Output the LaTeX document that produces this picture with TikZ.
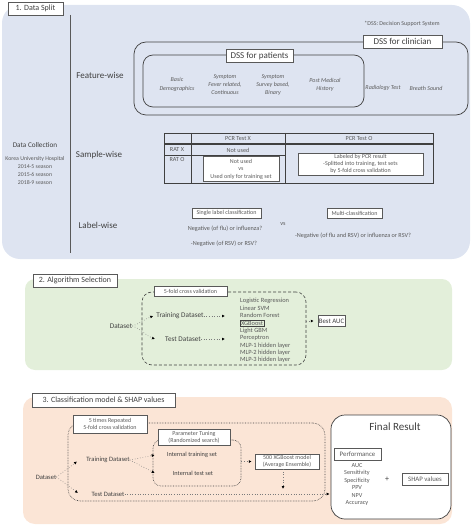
\documentclass[tikz,border=0pt]{standalone}
\usepackage{fontspec}
\setmainfont{Carlito}
\usetikzlibrary{arrows.meta}
\definecolor{pone}{HTML}{DEE4F1}
\definecolor{ptwo}{HTML}{E3EFDA}
\definecolor{pthree}{HTML}{FBE5D6}
\definecolor{ln}{HTML}{595959}
\definecolor{tx}{HTML}{404040}
\definecolor{tl}{HTML}{5A5A5A}
\newcommand\myfs[2]{\fontsize{#1}{#2}\selectfont}
\begin{document}
\begin{tikzpicture}[x=1pt,y=-1pt,
 titlebox/.style={draw=ln, fill=white, line width=0.6pt, inner sep=0pt, text=tx, font=\myfs{8}{9}},
 wbox/.style={draw=ln, fill=white, line width=0.5pt, inner sep=0pt, text=tl, align=center},
 ttx/.style={inner sep=0pt, text=tx, align=center},
 stx/.style={inner sep=0pt, text=tl, align=center},
 frame/.style={draw=tx, line width=0.7pt},
 conn/.style={draw=ln!80, dotted, line width=0.6pt, -{Latex[length=3pt,width=3pt,color=black]}},
 dashbox/.style={draw=tx, densely dashed, line width=0.6pt, rounded corners=10pt, inner sep=0pt},
 dotbox/.style={draw=tx, densely dotted, line width=0.6pt, rounded corners=#1, inner sep=0pt},
]
\useasboundingbox (0,0) rectangle (474,526);
% ---------- Panel 1 ----------
\fill[pone, rounded corners=18pt] (2,5) rectangle (470,259);
\node[titlebox, minimum width=55pt, minimum height=13pt] (h1) at (35.5,8.5) {1. Data Split};
\draw[ln, line width=0.6pt] (70,15) -- (70,253);
\node[ttx, font=\myfs{7.2}{8}] (dc) at (35,145) {Data Collection};
\node[stx, font=\myfs{5.8}{8}] (kuh) at (35,171) {Korea University Hospital\\2014-5 season\\2015-6 season\\2018-9 season};
\node[ttx, font=\myfs{9}{10}] (fw) at (100,75) {Feature-wise};
\node[ttx, font=\myfs{9}{10}] (sw) at (99,155) {Sample-wise};
\node[ttx, font=\myfs{9}{10}] (lw) at (98,225) {Label-wise};
\node[stx, font=\myfs{6}{7}] (dssnote) at (402,24) {*DSS: Decision Support System};
% DSS containers
\draw[frame, rounded corners=12pt] (134,42) rectangle (468,115);
\draw[frame, rounded corners=10pt] (143,55) rectangle (364,107);
\node[titlebox, font=\myfs{9}{10}, minimum width=79pt, minimum height=13pt] (dssc) at (402.5,41.5) {DSS for clinician};
\node[titlebox, font=\myfs{9}{10}, minimum width=67pt, minimum height=13pt] (dssp) at (259.5,56) {DSS for patients};
\node[stx, font=\myfs{6}{8.5}\itshape] (f1) at (177,84.5) {Basic\\Demographics};
\node[stx, font=\myfs{6}{8}\itshape] (f2) at (225,85) {Symptom\\Fever related,\\Continuous};
\node[stx, font=\myfs{6}{8}\itshape] (f3) at (273,85) {Symptom\\Survey based,\\Binary};
\node[stx, font=\myfs{6}{8.5}\itshape] (f4) at (325,85) {Post Medical\\History};
\node[stx, font=\myfs{6}{8}\itshape] (f5) at (383,88) {Radiology Test};
\node[stx, font=\myfs{6}{8}\itshape] (f6) at (426,88) {Breath Sound};
% table
\draw[tx, line width=0.7pt] (164,133) rectangle (433,183);
\draw[tx, line width=1.1pt] (164,144) -- (433,144);
\draw[tx, line width=0.6pt] (164,155) -- (285,155);
\draw[tx, line width=0.6pt] (191,133) -- (191,183) (285,133) -- (285,183);
\node[stx, font=\myfs{6.2}{7}] (pcrx) at (238,139) {PCR Test X};
\node[stx, font=\myfs{6.2}{7}] (pcro) at (359,139) {PCR Test O};
\node[stx, font=\myfs{6.2}{7}] (ratx) at (177,150) {RAT X};
\node[stx, font=\myfs{6.2}{7}] (notused) at (238,150) {Not used};
\node[stx, font=\myfs{6.2}{7}] (rato) at (177,160) {RAT O};
\node[wbox, font=\myfs{6}{7.5}, minimum width=76pt, minimum height=25pt] (nvu) at (241,169) {Not used\\vs\\Used only for training set};
\node[wbox, font=\myfs{6}{7.2}, minimum width=125pt, minimum height=22pt] (lab) at (360.5,164) {Labeled by PCR result\\-Splitted into training, test sets\\by 5-fold cross validation};
% label-wise
\node[wbox, font=\myfs{6}{7}, minimum width=69pt, minimum height=10pt] (slc) at (226.5,213) {Single label classification};
\node[stx, font=\myfs{6.2}{7}] (neg1) at (225,229) {Negative (of flu) or influenza?};
\node[stx, font=\myfs{6.2}{7}] (neg2) at (224,244) {-Negative (of RSV) or RSV?};
\node[stx, font=\myfs{6.2}{7}] (vs) at (283,224) {vs};
\node[wbox, font=\myfs{6}{7}, minimum width=55pt, minimum height=10pt] (mc) at (354.5,213) {Multi-classification};
\node[stx, font=\myfs{6.2}{7}] (neg3) at (353,236) {-Negative (of flu and RSV) or influenza or RSV?};
% ---------- Panel 2 ----------
\fill[ptwo, rounded corners=10pt] (25,279) rectangle (452,370);
\node[titlebox, minimum width=84pt, minimum height=13pt] (h2) at (75,280.5) {2. Algorithm Selection};
\node[dashbox, minimum width=164pt, minimum height=73pt] (cv) at (224,328.5) {};
\node[wbox, font=\myfs{6}{7}, minimum width=73pt, minimum height=10pt] (cvl) at (190.5,291.5) {5-fold cross validation};
\node[ttx, font=\myfs{7.2}{8}] (ds2) at (121,326) {Dataset};
\node[ttx, font=\myfs{7.2}{8}] (tr2) at (180,316) {Training Dataset};
\node[ttx, font=\myfs{7.2}{8}] (te2) at (183,339) {Test Dataset};
\node[stx, font=\myfs{6.4}{7}, anchor=west] (a1) at (240,301) {Logistic Regression};
\node[stx, font=\myfs{6.4}{7}, anchor=west] (a2) at (240,308.4) {Linear SVM};
\node[stx, font=\myfs{6.4}{7}, anchor=west] (a3) at (240,315.8) {Random Forest};
\node[stx, font=\myfs{6.4}{7}, anchor=west, draw=tx, line width=0.5pt, inner xsep=0.8pt, inner ysep=0.6pt] (a4) at (240,323.2) {XGBoost};
\node[stx, font=\myfs{6.4}{7}, anchor=west] (a5) at (240,330.6) {Light GBM};
\node[stx, font=\myfs{6.4}{7}, anchor=west] (a6) at (240,338) {Perceptron};
\node[stx, font=\myfs{6.4}{7}, anchor=west] (a7) at (240,345.4) {MLP-1 hidden layer};
\node[stx, font=\myfs{6.4}{7}, anchor=west] (a8) at (240,352.8) {MLP-2 hidden layer};
\node[stx, font=\myfs{6.4}{7}, anchor=west] (a9) at (240,360.2) {MLP-3 hidden layer};
\node[wbox, text=tx, font=\myfs{6.8}{8}, minimum width=27pt, minimum height=11pt] (best) at (331.5,321) {Best AUC};
\draw[conn] (ds2.east) to[out=20,in=200] ([xshift=-3pt]tr2.west);
\draw[conn] (ds2.east) to[out=-20,in=160] ([xshift=-10pt]te2.west);
\draw[conn, shorten >=15pt] (tr2.east) -- (tr2.east -| a1.west);
\draw[conn, shorten >=15pt] (te2.east) -- (te2.east -| a1.west);
\draw[conn, shorten >=4pt] (cv.east |- best) -- (best.west);
% ---------- Panel 3 ----------
\fill[pthree, rounded corners=12pt] (23,397) rectangle (452,524);
\node[titlebox, minimum width=143pt, minimum height=14pt] (h3) at (103.5,400) {3. Classification model \& SHAP values};
\node[dotbox=12pt, minimum width=257pt, minimum height=78pt] (rep) at (196.5,462) {};
\node[wbox, font=\myfs{6}{7.2}, minimum width=74pt, minimum height=18pt] (repl) at (110,424) {5 times Repeated\\5-fold cross validation};
\node[dotbox=8pt, minimum width=88pt, minimum height=46pt] (pt) at (197,463) {};
\node[wbox, font=\myfs{6}{7.2}, minimum width=72pt, minimum height=16pt] (ptl) at (194,437) {Parameter Tuning\\(Randomized search)};
\node[ttx, font=\myfs{6.6}{8}] (ds3) at (46,477) {Dataset};
\node[ttx, font=\myfs{6.6}{8}] (tr3) at (108,460) {Training Dataset};
\node[ttx, font=\myfs{6.6}{8}] (te3) at (108,494) {Test Dataset};
\node[ttx, font=\myfs{6.3}{8}] (in1) at (192,455) {Internal training set};
\node[ttx, font=\myfs{6.3}{8}] (in2) at (193,473) {Internal test set};
\node[wbox, font=\myfs{6}{7.2}, minimum width=64pt, minimum height=15pt] (xgb) at (287,461.5) {500 XGBoost model\\(Average Ensemble)};
\node[draw=tx, fill=white, line width=0.7pt, rounded corners=14pt, minimum width=120pt, minimum height=104pt, inner sep=0pt] (fr) at (391,467) {};
\node[ttx, font=\myfs{11}{12}] (frt) at (395,427) {Final Result};
\node[wbox, font=\myfs{6.8}{8}, minimum width=47pt, minimum height=12pt] (perf) at (357.5,454) {Performance};
\node[stx, font=\myfs{6.2}{7.4}] (met) at (357,484.5) {AUC\\Sensitivity\\Specificity\\PPV\\NPV\\Accuracy};
\node[ttx, font=\myfs{8}{9}] (plus) at (387,479) {+};
\node[wbox, font=\myfs{6.8}{8}, minimum width=46pt, minimum height=12pt] (shap) at (425,479) {SHAP values};
\draw[conn] (ds3.east) -- (77,461.5) coordinate (ah1);
\draw[conn] (ds3.east) -- (78,493) coordinate (ah2);
\draw[conn] (tr3.east) -- ([xshift=2pt]pt.west |- in1);
\draw[conn] (tr3.east) -- ([xshift=2pt]pt.west |- in2);
\draw[conn, shorten >=3pt] (pt.east |- xgb) -- (xgb.west);
\draw[conn, shorten >=5pt] (xgb.south -| 283,0) -- (283,494);
\draw[conn, shorten >=1pt] (te3.east) -- (te3.east -| fr.west);
\end{tikzpicture}
\end{document}
